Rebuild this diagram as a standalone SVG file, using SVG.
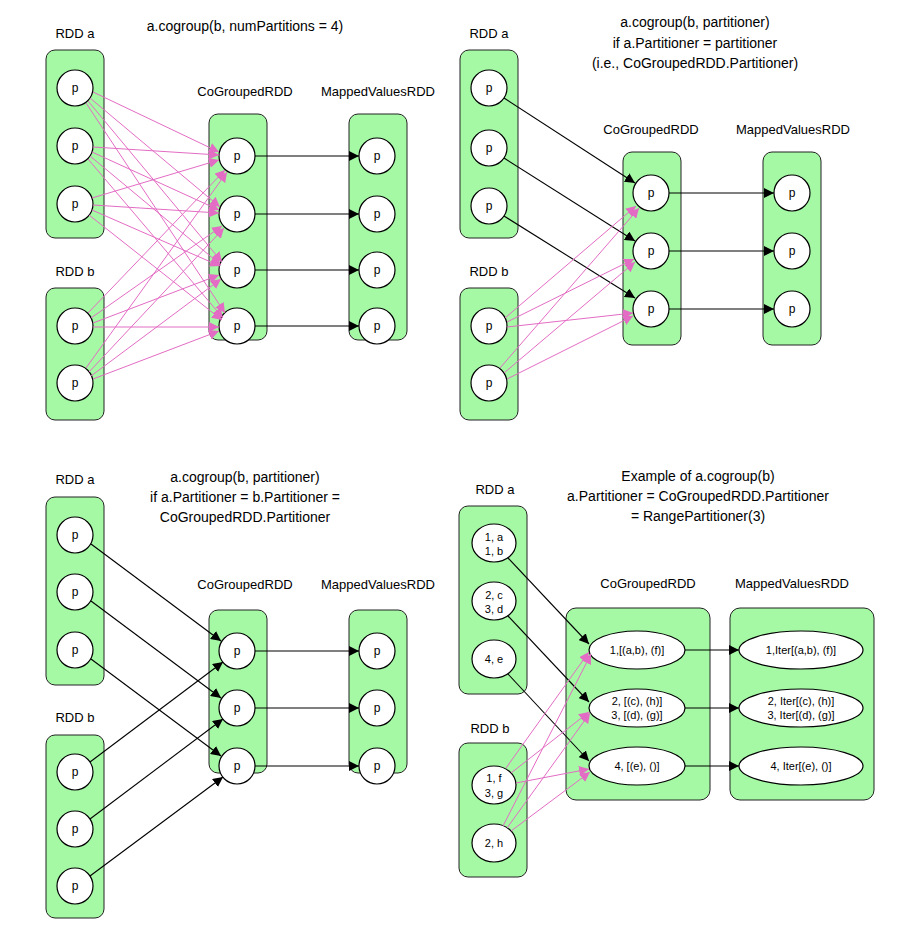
<svg xmlns="http://www.w3.org/2000/svg" width="915" height="928" viewBox="0 0 915 928">
<defs>
<marker id="ab" viewBox="0 0 10 10" refX="10" refY="5" markerWidth="10" markerHeight="10" markerUnits="userSpaceOnUse" orient="auto"><path d="M0,0 L10,5 L0,10 z" fill="#000"/></marker>
<marker id="ap" viewBox="0 0 10 10" refX="10" refY="5" markerWidth="10" markerHeight="10" markerUnits="userSpaceOnUse" orient="auto"><path d="M0,0 L10,5 L0,10 z" fill="#e36cc4"/></marker>
</defs>
<style>
.box{fill:#a5f9a5;stroke:#222;stroke-width:1}
.n{fill:#fff;stroke:#000;stroke-width:1.2}
text{font-family:"Liberation Sans",Arial,sans-serif;fill:#000;text-anchor:middle}
.t{font-size:14px}
.l{font-size:13px}
.p{font-size:12px}
.s{font-size:11px}
.b{stroke:#000;stroke-width:1.1;fill:none;marker-end:url(#ab)}
.k{stroke:#e36cc4;stroke-width:1;fill:none;marker-end:url(#ap)}
</style>
<rect width="915" height="928" fill="#fff"/>
<!-- Panel 1 -->
<g id="p1-title"><text class="t" x="245" y="31">a.cogroup(b, numPartitions = 4)</text></g>
<g id="p1-a"><text class="l" x="75" y="38">RDD a</text><rect class="box" x="46" y="50" width="58" height="188" rx="9"/>
<circle class="n" cx="75" cy="88" r="18"/><text class="p" x="75" y="92">p</text>
<circle class="n" cx="75" cy="146" r="18"/><text class="p" x="75" y="150">p</text>
<circle class="n" cx="75" cy="204" r="18"/><text class="p" x="75" y="208">p</text></g>
<g id="p1-b"><text class="l" x="75" y="276">RDD b</text><rect class="box" x="46" y="288" width="58" height="132" rx="9"/>
<circle class="n" cx="75" cy="326" r="18"/><text class="p" x="75" y="330">p</text>
<circle class="n" cx="75" cy="383" r="18"/><text class="p" x="75" y="387">p</text></g>
<g id="p1-co"><text class="l" x="245" y="96">CoGroupedRDD</text><rect class="box" x="209" y="114" width="58" height="226" rx="9"/>
<circle class="n" cx="237" cy="156" r="18"/><text class="p" x="237" y="160">p</text>
<circle class="n" cx="237" cy="214" r="18"/><text class="p" x="237" y="218">p</text>
<circle class="n" cx="237" cy="270" r="18"/><text class="p" x="237" y="274">p</text>
<circle class="n" cx="237" cy="326" r="18"/><text class="p" x="237" y="330">p</text></g>
<g id="p1-mv"><text class="l" x="378" y="96">MappedValuesRDD</text><rect class="box" x="349" y="114" width="58" height="226" rx="9"/>
<circle class="n" cx="377" cy="156" r="18"/><text class="p" x="377" y="160">p</text>
<circle class="n" cx="377" cy="214" r="18"/><text class="p" x="377" y="218">p</text>
<circle class="n" cx="377" cy="270" r="18"/><text class="p" x="377" y="274">p</text>
<circle class="n" cx="377" cy="326" r="18"/><text class="p" x="377" y="330">p</text></g>
<g id="p1-edges">
<path class="k" d="M93,92 L219,152"/><path class="k" d="M90,98 L220,207"/><path class="k" d="M88,101 L222,262"/><path class="k" d="M86,103 L225,313"/>
<path class="k" d="M93,147 L219,155"/><path class="k" d="M92,152 L219,210"/><path class="k" d="M90,156 L221,265"/><path class="k" d="M88,159 L223,318"/>
<path class="k" d="M92,198 L219,160"/><path class="k" d="M93,205 L219,213"/><path class="k" d="M92,210 L220,266"/><path class="k" d="M89,215 L222,320"/>
<path class="k" d="M88,313 L225,170"/><path class="k" d="M91,318 L222,226"/><path class="k" d="M93,323 L219,275"/><path class="k" d="M93,327 L219,327"/>
<path class="k" d="M86,368 L227,172"/><path class="k" d="M89,372 L224,228"/><path class="k" d="M91,376 L221,279"/><path class="k" d="M93,379 L219,331"/>
<path class="b" d="M255,156 L359,156"/><path class="b" d="M255,214 L359,214"/><path class="b" d="M255,270 L359,270"/><path class="b" d="M255,326 L359,326"/>
</g>
<!-- Panel 2 -->
<g id="p2-title"><text class="t" x="695" y="27">a.cogroup(b, partitioner)</text><text class="t" x="695" y="48">if a.Partitioner = partitioner</text><text class="t" x="695" y="68">(i.e., CoGroupedRDD.Partitioner)</text></g>
<g id="p2-a"><text class="l" x="489" y="38">RDD a</text><rect class="box" x="460" y="50" width="58" height="188" rx="9"/>
<circle class="n" cx="489" cy="88" r="18"/><text class="p" x="489" y="92">p</text>
<circle class="n" cx="489" cy="148" r="18"/><text class="p" x="489" y="152">p</text>
<circle class="n" cx="489" cy="206" r="18"/><text class="p" x="489" y="210">p</text></g>
<g id="p2-b"><text class="l" x="489" y="276">RDD b</text><rect class="box" x="460" y="288" width="58" height="132" rx="9"/>
<circle class="n" cx="489" cy="326" r="18"/><text class="p" x="489" y="330">p</text>
<circle class="n" cx="489" cy="383" r="18"/><text class="p" x="489" y="387">p</text></g>
<g id="p2-co"><text class="l" x="651" y="134">CoGroupedRDD</text><rect class="box" x="623" y="152" width="58" height="193" rx="9"/>
<circle class="n" cx="651" cy="193" r="18"/><text class="p" x="651" y="197">p</text>
<circle class="n" cx="651" cy="251" r="18"/><text class="p" x="651" y="255">p</text>
<circle class="n" cx="651" cy="309" r="18"/><text class="p" x="651" y="313">p</text></g>
<g id="p2-mv"><text class="l" x="793" y="134">MappedValuesRDD</text><rect class="box" x="763" y="152" width="58" height="193" rx="9"/>
<circle class="n" cx="792" cy="193" r="18"/><text class="p" x="792" y="197">p</text>
<circle class="n" cx="792" cy="251" r="18"/><text class="p" x="792" y="255">p</text>
<circle class="n" cx="792" cy="309" r="18"/><text class="p" x="792" y="313">p</text></g>
<g id="p2-edges">
<path class="b" d="M504,98 L635,183"/><path class="b" d="M504,158 L635,241"/><path class="b" d="M504,216 L635,298"/>
<path class="k" d="M505,318 L636,206"/><path class="k" d="M507,322 L634,259"/><path class="k" d="M507,327 L633,313"/>
<path class="k" d="M500,368 L639,208"/><path class="k" d="M504,373 L635,262"/><path class="k" d="M507,379 L633,316"/>
<path class="b" d="M669,193 L774,193"/><path class="b" d="M669,251 L774,251"/><path class="b" d="M669,309 L774,309"/>
</g>
<!-- Panel 3 -->
<g id="p3-title"><text class="t" x="245" y="482">a.cogroup(b, partitioner)</text><text class="t" x="245" y="502">if a.Partitioner = b.Partitioner =</text><text class="t" x="245" y="522">CoGroupedRDD.Partitioner</text></g>
<g id="p3-a"><text class="l" x="75" y="484">RDD a</text><rect class="box" x="46" y="497" width="58" height="188" rx="9"/>
<circle class="n" cx="75" cy="535" r="18"/><text class="p" x="75" y="539">p</text>
<circle class="n" cx="75" cy="592" r="18"/><text class="p" x="75" y="596">p</text>
<circle class="n" cx="75" cy="650" r="18"/><text class="p" x="75" y="654">p</text></g>
<g id="p3-b"><text class="l" x="75" y="722">RDD b</text><rect class="box" x="46" y="735" width="58" height="183" rx="9"/>
<circle class="n" cx="75" cy="772" r="18"/><text class="p" x="75" y="776">p</text>
<circle class="n" cx="75" cy="829" r="18"/><text class="p" x="75" y="833">p</text>
<circle class="n" cx="75" cy="886" r="18"/><text class="p" x="75" y="890">p</text></g>
<g id="p3-co"><text class="l" x="245" y="589">CoGroupedRDD</text><rect class="box" x="209" y="610" width="58" height="163" rx="9"/>
<circle class="n" cx="237" cy="651" r="18"/><text class="p" x="237" y="655">p</text>
<circle class="n" cx="237" cy="708" r="18"/><text class="p" x="237" y="712">p</text>
<circle class="n" cx="237" cy="766" r="18"/><text class="p" x="237" y="770">p</text></g>
<g id="p3-mv"><text class="l" x="378" y="589">MappedValuesRDD</text><rect class="box" x="349" y="610" width="58" height="163" rx="9"/>
<circle class="n" cx="377" cy="651" r="18"/><text class="p" x="377" y="655">p</text>
<circle class="n" cx="377" cy="708" r="18"/><text class="p" x="377" y="712">p</text>
<circle class="n" cx="377" cy="766" r="18"/><text class="p" x="377" y="770">p</text></g>
<g id="p3-edges">
<path class="b" d="M91,544 L221,641"/><path class="b" d="M91,601 L221,698"/><path class="b" d="M91,659 L221,756"/>
<path class="b" d="M90,762 L223,662"/><path class="b" d="M90,819 L223,719"/><path class="b" d="M90,876 L223,777"/>
<path class="b" d="M255,651 L359,651"/><path class="b" d="M255,708 L359,708"/><path class="b" d="M255,766 L359,766"/>
</g>
<!-- Panel 4 -->
<g id="p4-title"><text class="t" x="698" y="481">Example of a.cogroup(b)</text><text class="t" x="698" y="501">a.Partitioner = CoGroupedRDD.Partitioner</text><text class="t" x="698" y="521">= RangePartitioner(3)</text></g>
<g id="p4-a"><text class="l" x="495" y="494">RDD a</text><rect class="box" x="459" y="506" width="68" height="188" rx="9"/>
<ellipse class="n" cx="494" cy="543" rx="22" ry="19"/><text class="s" x="494" y="541">1, a</text><text class="s" x="494" y="555">1, b</text>
<ellipse class="n" cx="494" cy="601" rx="22" ry="19"/><text class="s" x="494" y="599">2, c</text><text class="s" x="494" y="613">3, d</text>
<ellipse class="n" cx="494" cy="659" rx="22" ry="19"/><text class="s" x="494" y="663">4, e</text></g>
<g id="p4-b"><text class="l" x="490" y="733">RDD b</text><rect class="box" x="459" y="743" width="68" height="134" rx="9"/>
<ellipse class="n" cx="494" cy="785" rx="22" ry="19"/><text class="s" x="494" y="782">1, f</text><text class="s" x="494" y="797">3, g</text>
<ellipse class="n" cx="494" cy="843" rx="22" ry="19"/><text class="s" x="494" y="847">2, h</text></g>
<g id="p4-co"><text class="l" x="648" y="588">CoGroupedRDD</text><rect class="box" x="566" y="608" width="144" height="192" rx="10"/>
<ellipse class="n" cx="637" cy="650" rx="48" ry="19"/><text class="s" x="637" y="654">1,[(a,b), (f)]</text>
<ellipse class="n" cx="637" cy="708" rx="48" ry="19"/><text class="s" x="637" y="705">2, [(c), (h)]</text><text class="s" x="637" y="719">3, [(d), (g)]</text>
<ellipse class="n" cx="637" cy="766" rx="48" ry="19"/><text class="s" x="637" y="770">4, [(e), ()]</text></g>
<g id="p4-mv"><text class="l" x="792" y="588">MappedValuesRDD</text><rect class="box" x="730" y="608" width="144" height="192" rx="10"/>
<ellipse class="n" cx="801" cy="650" rx="62" ry="19"/><text class="s" x="801" y="654">1,Iter[(a,b), (f)]</text>
<ellipse class="n" cx="801" cy="708" rx="62" ry="19"/><text class="s" x="801" y="705">2, Iter[(c), (h)]</text><text class="s" x="801" y="719">3, Iter[(d), (g)]</text>
<ellipse class="n" cx="801" cy="766" rx="62" ry="19"/><text class="s" x="801" y="770">4, Iter[(e), ()]</text></g>
<g id="p4-edges">
<path class="b" d="M508,558 L589,644"/><path class="b" d="M508,616 L589,702"/><path class="b" d="M508,674 L589,761"/>
<path class="k" d="M506,768 L589,652"/><path class="k" d="M511,773 L589,712"/><path class="k" d="M516,783 L589,769"/>
<path class="k" d="M503,826 L591,654"/><path class="k" d="M507,828 L590,713"/><path class="k" d="M511,831 L590,772"/>
<path class="b" d="M685,650 L739,650"/><path class="b" d="M685,708 L739,708"/><path class="b" d="M685,766 L739,766"/>
</g>
</svg>
